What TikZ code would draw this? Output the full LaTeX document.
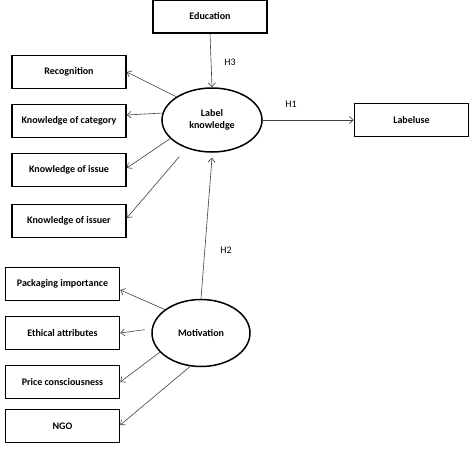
\documentclass[tikz,border=0pt]{standalone}
\usepackage{fontspec}
\setmainfont{Carlito}
\usetikzlibrary{arrows.meta,shapes.geometric}
\tikzset{
  box/.style={draw, line width=1.5pt, minimum width=114pt, minimum height=33pt, inner sep=0pt, font=\fontsize{10}{12}\selectfont\bfseries},
  oval/.style={draw, ellipse, line width=1.5pt, inner sep=0pt, font=\fontsize{10}{12.5}\selectfont\bfseries, align=center},
  conn/.style={draw=black!75, line width=0.6pt, -{Straight Barb[length=4pt,width=7pt,line width=0.6pt]}},
  hlab/.style={font=\fontsize{10}{12}\selectfont}
}
\begin{document}
\begin{tikzpicture}[x=1pt,y=-1pt]
\useasboundingbox[fill=white] (0,0) rectangle (474,453);
% boxes
\node[box] (edu) at (210,16.5) {Education};
\node[box] (rec) at (69,72) {Recognition};
\node[box] (kc) at (69,121) {Knowledge of category};
\node[box] (ki) at (69,170) {Knowledge of issue};
\node[box] (kr) at (69,221) {Knowledge of issuer};
\node[box] (lu) at (411.5,120) {Labeluse};
\node[box] (pi) at (62.5,284) {Packaging importance};
\node[box] (ea) at (62.5,333) {Ethical attributes};
\node[box] (pc) at (62.5,382) {Price consciousness};
\node[box] (ngo) at (62.5,426) {NGO};
% ellipses
\node[oval, minimum width=100pt, minimum height=64pt] (lk) at (212,120) {Label\\knowledge};
\node[oval, minimum width=98pt, minimum height=67pt] (mot) at (201,333) {Motivation};
% hypothesis labels
\node[hlab] (h3) at (230,62) {H3};
\node[hlab] (h1) at (291,104) {H1};
\node[hlab] (h2) at (226,250) {H2};
% connectors
\draw[conn] (edu.south) -- (lk.north);
\draw[conn] (lk.east) -- (lu.west);
\draw[conn] (mot.north) -- ([yshift=-5pt]lk.south);
\draw[conn] (lk.147) -- (rec.east);
\draw[conn] (lk.172) -- ([yshift=6pt]kc.east);
\draw[conn] (lk.204) -- ([yshift=2pt]ki.east);
\draw[conn, shorten <=11pt] (lk.228) -- ([yshift=3pt]kr.east);
\draw[conn] (mot.147) -- ([yshift=-6pt]pi.east);
\draw[conn, shorten <=7pt] (mot.175) -- (ea.east);
\draw[conn] (mot.205) -- (pc.east);
\draw[conn] (mot.252) -- ([yshift=1pt]ngo.east);
\end{tikzpicture}
\end{document}
